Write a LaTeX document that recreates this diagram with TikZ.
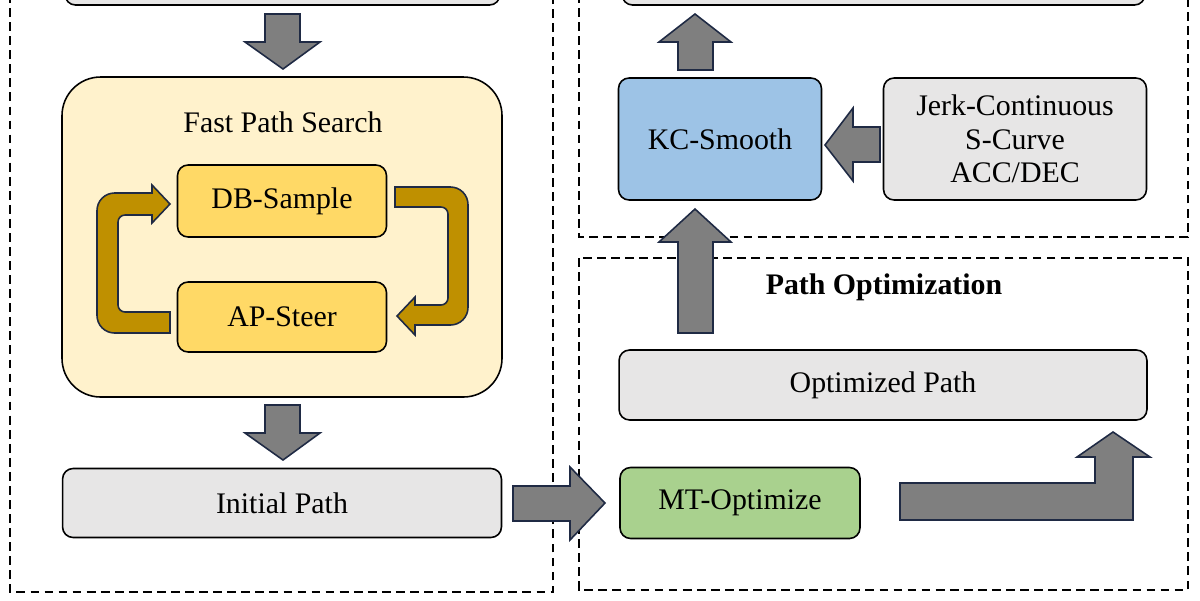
\documentclass[tikz,border=0pt]{standalone}
\usepackage{fontspec}
\setmainfont{Liberation Serif}
\usepackage{tikz}

\definecolor{boxgray}{HTML}{E7E6E6}
\definecolor{pathyel}{HTML}{FFF2CC}
\definecolor{stepyel}{HTML}{FFD966}
\definecolor{loopgold}{HTML}{BF9000}
\definecolor{smoothblue}{HTML}{9DC3E6}
\definecolor{optgreen}{HTML}{A9D18E}
\definecolor{arrgray}{HTML}{7F7F7F}
\definecolor{navy}{HTML}{1F2A44}

\tikzset{
    box/.style={draw=black, line width=0.9pt, rounded corners=6pt, inner sep=0pt, font=\fontsize{17}{20}\selectfont},
    fat/.style={fill=arrgray, draw=navy, line width=0.9pt},
    loop/.style={fill=loopgold, draw=navy, line width=0.9pt},
    frame/.style={draw=black, dashed, dash pattern=on 5pt off 3pt, line width=0.8pt}
}

\begin{document}
\begin{tikzpicture}[x=0.02cm, y=-0.02cm]
        \useasboundingbox (0,0) rectangle (1200,600);
        % dashed frames
        \draw[frame] (10,-20) rectangle (553,592);
        \draw[frame] (579,-20) rectangle (1188,237);
        \draw[frame] (579,258) rectangle (1188,590);

        % left column
        \draw[box, fill=boxgray] (65,-30) rectangle (500,5);
        \draw[box, fill=pathyel, rounded corners=22pt] (62,77) rectangle (502,397);
        \node (fps) at (283,122) {\fontsize{17}{20}\selectfont Fast Path Search};
        \node[box, fill=stepyel, minimum width=4.18cm, minimum height=1.44cm] (db) at (282,201) {DB-Sample};
        \node[box, fill=stepyel, minimum width=4.18cm, minimum height=1.40cm] (ap) at (282,317) {AP-Steer};
        \node[box, fill=boxgray, minimum width=8.78cm, minimum height=1.38cm] (init) at (282,503) {Initial Path};

        % loop arrows
        \draw[loop] (170,333) [rounded corners=10pt] -- (97,333) -- (97,193) [sharp corners] -- (152,193) -- (152,185)
            -- (170,204) -- (152,223) -- (152,215) [rounded corners=4pt] -- (118,215) -- (118,312) [sharp corners] -- (170,312) -- cycle;
        \draw[loop] (395,187) [rounded corners=10pt] -- (468,187) -- (468,325) [sharp corners] -- (415,325) -- (415,335)
            -- (397,316) -- (415,297) -- (415,305) [rounded corners=4pt] -- (448,305) -- (448,207) [sharp corners] -- (395,207) -- cycle;

        % right column
        \draw[box, fill=boxgray] (622,-30) rectangle (1145,5);
        \node[box, fill=smoothblue, minimum width=4.06cm, minimum height=2.44cm] (kc) at (720,139) {KC-Smooth};
        \node[box, fill=boxgray, minimum width=5.26cm, minimum height=2.44cm, align=center] (jerk) at (1015,139)
            {Jerk-Continuous\\[-1pt]S-Curve\\[-1pt]ACC/DEC};
        \node[font=\fontsize{17}{20}\selectfont\bfseries] (popt) at (884,287) {Path Optimization};
        \node[box, fill=boxgray, minimum width=10.56cm, minimum height=1.40cm] (opt) at (883,385) {Optimized Path};
        \node[box, fill=optgreen, minimum width=4.8cm, minimum height=1.42cm] (mt) at (740,503) {MT-Optimize};

        % block arrows
        \draw[fat] (265,14) -- (300,14) -- (300,42) -- (320,42) -- (283,69) -- (245,42) -- (265,42) -- cycle;
        \draw[fat] (265,405) -- (300,405) -- (300,433) -- (320,433) -- (283,460) -- (245,433) -- (265,433) -- cycle;
        \draw[fat] (513,486) -- (570,486) -- (570,467) -- (605,503) -- (570,540) -- (570,521) -- (513,521) -- cycle;
        \draw[fat] (678,70) -- (678,42) -- (659,42) -- (695,14) -- (731,42) -- (713,42) -- (713,70) -- cycle;
        \draw[fat] (678,333) -- (678,242) -- (659,242) -- (695,209) -- (731,242) -- (713,242) -- (713,333) -- cycle;
        \draw[fat] (880,127) -- (853,127) -- (853,108) -- (825,145) -- (853,181) -- (853,162) -- (880,162) -- cycle;
        \draw[fat] (900,483) -- (1095,483) -- (1095,457) -- (1077,457) -- (1113,432) -- (1150,457) -- (1133,457)
            -- (1133,520) -- (900,520) -- cycle;
    \end{tikzpicture}
\end{document}
